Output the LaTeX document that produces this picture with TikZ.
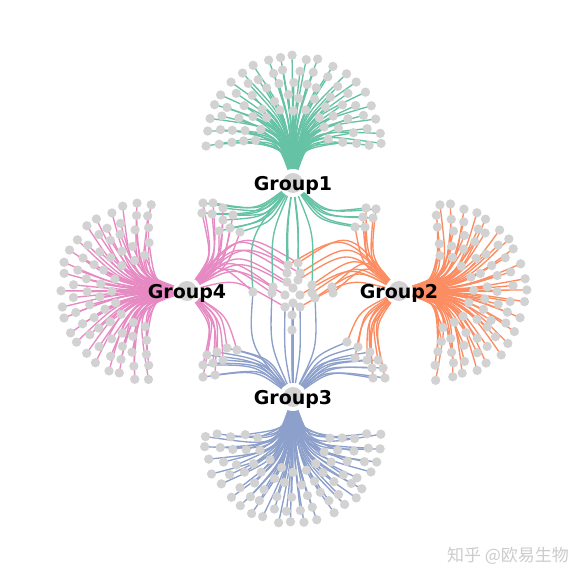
\documentclass[tikz,border=0pt]{standalone}
\usepackage{fontspec}
\setmainfont{DejaVu Sans}
\newfontfamily\cjkfont{Noto Sans CJK SC}
\usetikzlibrary{calc}
\definecolor{cgreen}{HTML}{66C2A5}
\definecolor{corange}{HTML}{FC8D62}
\definecolor{cblue}{HTML}{8DA0CB}
\definecolor{cpink}{HTML}{E78AC3}
\definecolor{leafgray}{HTML}{D2D2D2}
\tikzset{
  leaf/.style={circle, fill=leafgray, draw=none, inner sep=0pt, minimum size=9.3pt},
  hubarea/.style={circle, draw=none, inner sep=0pt, minimum size=26pt},
  hubhalo/.style={circle, fill=white, draw=none, inner sep=0pt, minimum size=28pt},
  hubdot/.style={circle, fill=leafgray, draw=none, inner sep=0pt, minimum size=20pt},
  grouplabel/.style={font=\bfseries\fontsize{19}{19}\selectfont, text=black, inner sep=0pt},
  ed/.style={line width=1.35pt},
}
% side cluster edge: bulge toward picture centre
\newcommand\mySide[3]{%
  \draw[ed,color=#3] let \p1=(#1), \p2=(#2) in
    (#1) .. controls ({0.41*(\x1+\x2)+0.18*293pt},{0.41*(\y1+\y2)+0.18*291pt}) .. (#2);}
% centre cluster edge
\newcommand\myCenter[5]{%
  \draw[ed,color=#5] let \p1=(#1), \p2=(#2),
    \n1={(\x2-\x1)*(#3)+(\y2-\y1)*(#4)},
    \n2={(\x2-\x1)-\n1*(#3)},
    \n3={(\y2-\y1)-\n1*(#4)} in
    (#1) .. controls ({\x1+0.5*\n1*(#3)+1.1*\n2},{\y1+0.5*\n1*(#4)+1.1*\n3+30pt*abs(#3)}) .. (#2);}
\begin{document}
\begin{tikzpicture}[x=1pt,y=1pt]
\fill[white] (0,0) rectangle (587,582);
\useasboundingbox (0,0) rectangle (587,582);
\pgfmathsetseed{11}
% hubs (named areas; drawn at the end)
\node[hubarea] (g1) at (293,399) {};
\node[hubarea] (g2) at (399,291) {};
\node[hubarea] (g3) at (293,185) {};
\node[hubarea] (g4) at (187,291) {};
% big fans: positions + edges
\foreach \gn/\hx/\hy/\dd/\cl in {g1/293/399/90/cgreen, g2/399/291/0/corange, g3/293/185/270/cblue, g4/187/291/180/cpink}{
  \foreach \rr/\nn in {88/21,75/18,62/15,49/12,36/9}{
    \foreach \ii in {1,...,\nn}{
      \pgfmathsetmacro\myA{\dd-95+(\ii-0.5)*190/\nn+1.5*rand}
      \pgfmathsetmacro\myLX{\hx+38*cos(\dd)+\rr*cos(\myA)+2*rand}
      \pgfmathsetmacro\myLY{\hy+38*sin(\dd)+\rr*sin(\myA)+2*rand}
      \pgfmathsetmacro\myU{(\myLX-\hx)*cos(\dd)+(\myLY-\hy)*sin(\dd)}
      \pgfmathsetmacro\myV{-(\myLX-\hx)*sin(\dd)+(\myLY-\hy)*cos(\dd)}
      \pgfmathsetmacro\myPhi{atan2(\myV,\myU)}
      \pgfmathsetmacro\myDist{veclen(\myU,\myV)}
      \pgfmathsetmacro\myCX{\hx+0.55*\myDist*cos(\dd+0.3*\myPhi)}
      \pgfmathsetmacro\myCY{\hy+0.55*\myDist*sin(\dd+0.3*\myPhi)}
      \coordinate (\gn-\rr-\ii) at (\myLX,\myLY);
      \draw[ed,color=\cl] (\gn) .. controls (\myCX,\myCY) .. (\gn-\rr-\ii);
    }
  }
}
% corner clusters: positions + edges
\foreach \px/\py [count=\k] in {203/379,213/379,202/369,212/368,223/374,223/362,233/367,230/354,240/350,219/351}{
  \coordinate (ul\k) at (\px,\py);
  \mySide{g1}{ul\k}{cgreen}\mySide{g4}{ul\k}{cpink}
}
\foreach \px/\py [count=\k] in {366/374,376/373,363/365,373/364,355/355,365/355}{
  \coordinate (ur\k) at (\px,\py);
  \mySide{g1}{ur\k}{cgreen}\mySide{g2}{ur\k}{corange}
}
\foreach \px/\py [count=\k] in {347/240,358/235,370/230,355/224,367/222,378/222,372/214,383/214,373/204,385/204}{
  \coordinate (lr\k) at (\px,\py);
  \mySide{g2}{lr\k}{corange}\mySide{g3}{lr\k}{cblue}
}
\foreach \px/\py [count=\k] in {207/227,217/230,227/234,237/232,203/217,213/219,223/222,203/205,215/207}{
  \coordinate (ll\k) at (\px,\py);
  \mySide{g3}{ll\k}{cblue}\mySide{g4}{ll\k}{cpink}
}
% centre cluster
\foreach \px/\py [count=\k] in {288/317,298/319,287/309,300/309,287/300,298/302,293/294,285/287,300/287,293/279,285/275,300/275,292/267,292/252,253/290,273/295,272/289,312/297,312/289,332/295,333/289,315/284}{
  \coordinate (c\k) at (\px,\py);
}
\foreach \k in {15,16,17,1,3,5,8,11,2,4,7}{\myCenter{g4}{c\k}{1}{0}{cpink}}
\foreach \k in {20,21,18,19,22,4,6,9,12,2,1}{\myCenter{g2}{c\k}{-1}{0}{corange}}
\foreach \k in {15,16,1,2,3,6,18}{\myCenter{g1}{c\k}{0}{-1}{cgreen}}
\foreach \k in {14,13,11,12,10,17,15,22}{\myCenter{g3}{c\k}{0}{1}{cblue}}
% leaf dots on top of edges
\foreach \gn in {g1,g2,g3,g4}{
  \foreach \rr/\nn in {88/21,75/18,62/15,49/12,36/9}{
    \foreach \ii in {1,...,\nn}{
      \node[leaf] at (\gn-\rr-\ii) {};
    }
  }
}
\foreach \k in {1,...,10}{\node[leaf] at (ul\k) {};}
\foreach \k in {1,...,6}{\node[leaf] at (ur\k) {};}
\foreach \k in {1,...,10}{\node[leaf] at (lr\k) {};}
\foreach \k in {1,...,9}{\node[leaf] at (ll\k) {};}
\foreach \k in {1,...,22}{\node[leaf] at (c\k) {};}
% hub dots and labels
\foreach \gn/\txt in {g1/Group1, g2/Group2, g3/Group3, g4/Group4}{
  \node[hubhalo] at (\gn) {};
  \node[hubdot] at (\gn) {};
  \node[grouplabel] at ($(\gn)+(0,-2)$) {\txt};
}
% watermark
\node[font=\cjkfont\fontsize{17}{17}\selectfont, text=black!20, inner sep=0pt] (wm) at (508,26) {知乎 @欧易生物};
\end{tikzpicture}
\end{document}
